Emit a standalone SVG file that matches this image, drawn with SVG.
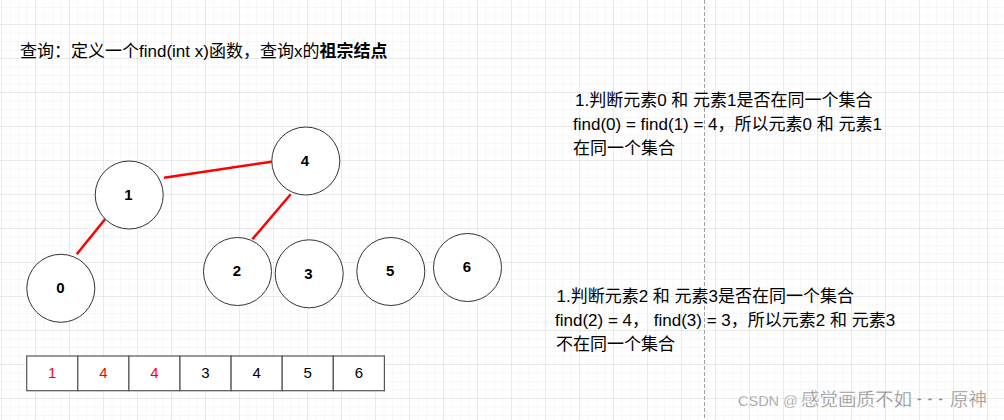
<svg xmlns="http://www.w3.org/2000/svg" width="1004" height="420" viewBox="0 0 1004 420">
  <defs>
    <pattern id="minor" patternUnits="userSpaceOnUse" x="1" y="24" width="8.5" height="8.5">
      <path d="M0 0 H8.5 M0 0 V8.5" fill="none" stroke="#f0f0f0" stroke-width="1"/>
    </pattern>
    <pattern id="major" patternUnits="userSpaceOnUse" x="1" y="24" width="34" height="34">
      <path d="M0 0 H34 M0 0 V34" fill="none" stroke="#dedede" stroke-width="1"/>
    </pattern>
    <style>
      text { font-family: "Liberation Sans", "Noto Sans CJK SC", sans-serif; }
      .node circle { fill: #ffffff; stroke: #333333; stroke-width: 1; }
      .node text { font-size: 15px; font-weight: bold; fill: #000000; text-anchor: middle; }
      .edge { stroke: #ff0000; stroke-width: 2.5; fill: none; }
      .cell rect { fill: #ffffff; stroke: #555555; stroke-width: 1.2; }
      .cell text { font-size: 15px; text-anchor: middle; }
      .note { font-size: 17px; fill: #000000; white-space: pre; }
      .red { fill: #ff0000; }
      .blk { fill: #000000; }
      .cjk { font-family: "Noto Sans CJK SC", sans-serif; }
    </style>
  </defs>

  <rect width="1004" height="420" fill="#ffffff"/>
  <rect width="1004" height="420" fill="url(#minor)"/>
  <rect width="1004" height="420" fill="url(#major)"/>
  <line x1="704.5" y1="0" x2="704.5" y2="420" stroke="#a0a0a0" stroke-width="1" stroke-dasharray="4 2"/>

  <text class="note" x="20" y="57">查询：定义一个find(int x)函数，查询x的<tspan font-weight="bold">祖宗结点</tspan></text>

  <g id="connectors">
    <line class="edge" x1="164" y1="177.7" x2="271.7" y2="161.7"/>
    <line class="edge" x1="76.7" y1="254.3" x2="105" y2="219.3"/>
    <line class="edge" x1="290.7" y1="194.3" x2="252.3" y2="239.3"/>
  </g>

  <g id="node-1" class="node"><circle cx="129.2" cy="195" r="34"/><text x="128.5" y="200.3">1</text></g>
  <g id="node-4" class="node"><circle cx="305.8" cy="161" r="34"/><text x="305" y="166.3">4</text></g>
  <g id="node-0" class="node"><circle cx="60.8" cy="288.3" r="34"/><text x="60.3" y="293">0</text></g>
  <g id="node-2" class="node"><circle cx="237.5" cy="271.5" r="34"/><text x="237" y="276.3">2</text></g>
  <g id="node-3" class="node"><circle cx="309.2" cy="273.8" r="34"/><text x="308.5" y="278.6">3</text></g>
  <g id="node-5" class="node"><circle cx="390.8" cy="271.5" r="34"/><text x="390.2" y="276">5</text></g>
  <g id="node-6" class="node"><circle cx="467.5" cy="267.5" r="34"/><text x="466.8" y="272">6</text></g>

  <g id="array">
    <g class="cell"><rect x="26.7" y="356" width="51.1" height="34.7"/><text class="red" x="52.2" y="378">1</text></g>
    <g class="cell"><rect x="77.8" y="356" width="51.1" height="34.7"/><text class="red" x="103.3" y="378">4</text></g>
    <g class="cell"><rect x="128.9" y="356" width="51.1" height="34.7"/><text class="red" x="154.4" y="378">4</text></g>
    <g class="cell"><rect x="180" y="356" width="51.1" height="34.7"/><text class="blk" x="205.5" y="378">3</text></g>
    <g class="cell"><rect x="231.1" y="356" width="51.1" height="34.7"/><text class="blk" x="256.6" y="378">4</text></g>
    <g class="cell"><rect x="282.2" y="356" width="51.1" height="34.7"/><text class="blk" x="307.7" y="378">5</text></g>
    <g class="cell"><rect x="333.3" y="356" width="51.1" height="34.7"/><text class="blk" x="358.8" y="378">6</text></g>
  </g>

  <g id="note-1">
    <text class="note" x="575" y="106">1.判断元素0 和 元素1是否在同一个集合</text>
    <text class="note" x="573" y="130">find(0) = find(1) = 4，所以元素0 和 元素1</text>
    <text class="note" x="573" y="154">在同一个集合</text>
  </g>

  <g id="note-2">
    <text class="note" x="556.5" y="302">1.判断元素2 和 元素3是否在同一个集合</text>
    <text class="note" x="555" y="326">find(2) = 4， find(3) = 3，所以元素2 和 元素3</text>
    <text class="note" x="556" y="350">不在同一个集合</text>
  </g>

  <g id="watermark" fill="#8a8a8a" stroke="#ffffff" stroke-width="0.3">
    <text x="738" y="406" font-size="14.5">CSDN @<tspan x="801" font-size="18.5">感觉画质不如</tspan><tspan class="cjk" x="914" font-size="18.5" textLength="32" lengthAdjust="spacingAndGlyphs">…</tspan><tspan x="950" font-size="18.5">原神</tspan></text>
  </g>
</svg>
